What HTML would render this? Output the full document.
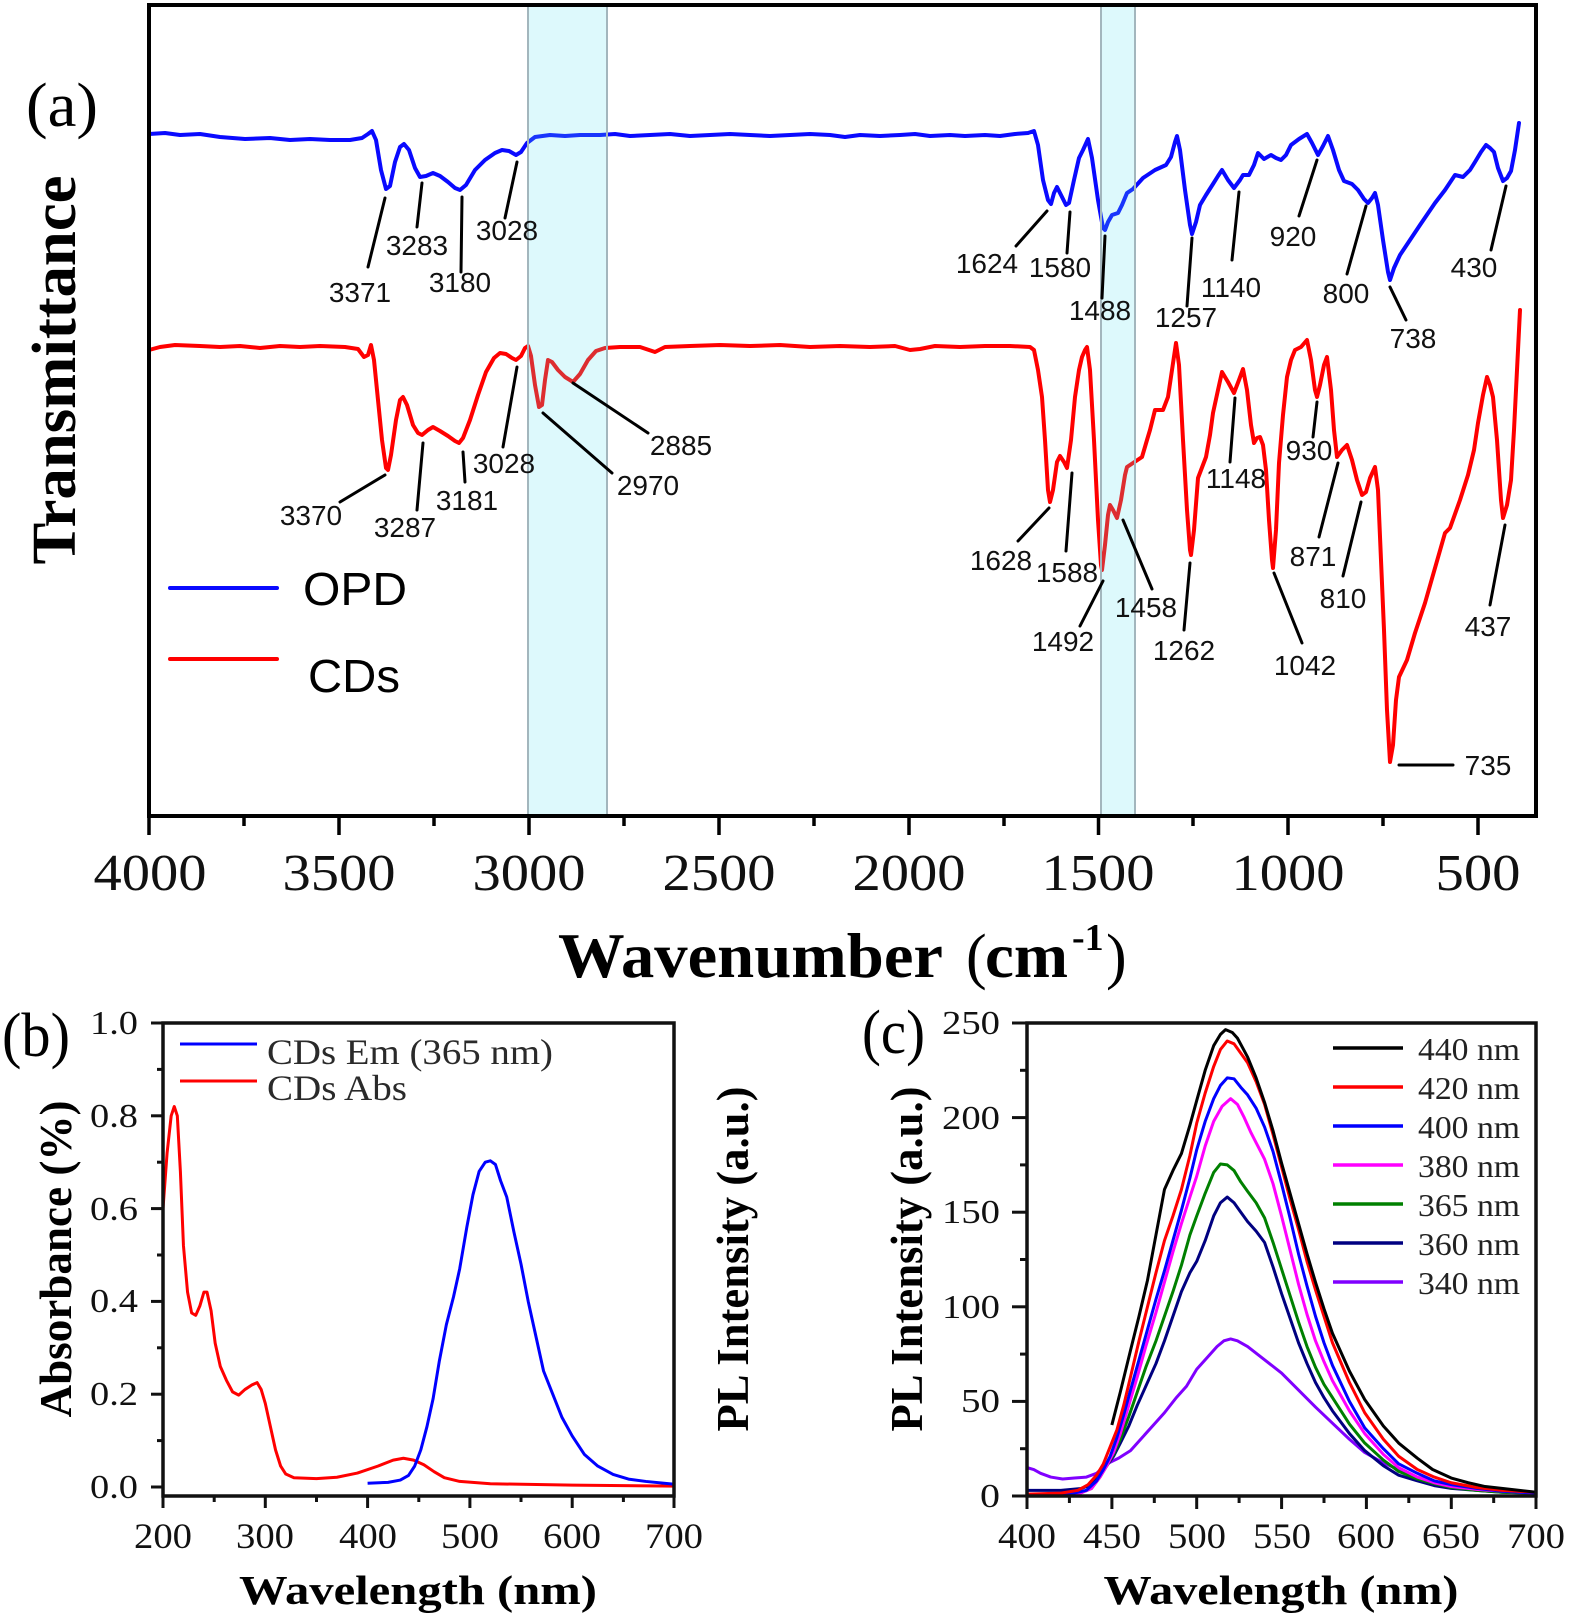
<!DOCTYPE html>
<html><head><meta charset="utf-8">
<style>
html,body{margin:0;padding:0;background:#fff;}
svg{display:block;}
.serif{font-family:"Liberation Serif","Times New Roman",serif;}
.sans{font-family:"Liberation Sans",Arial,sans-serif;}
.pk{font-family:"Liberation Sans",Arial,sans-serif;font-size:28px;fill:#111;}
</style></head>
<body>
<svg width="1570" height="1621" viewBox="0 0 1570 1621" xmlns="http://www.w3.org/2000/svg">
<rect x="0" y="0" width="1570" height="1621" fill="#fff"/>

<!-- ================= PANEL (a) ================= -->
<g fill="none" stroke-linejoin="round" stroke-linecap="round">
<!-- blue OPD -->
<polyline stroke="#0a0aff" stroke-width="4" points="149,134 165,133 180,135 200,134 220,137 245,139 270,138 290,140 310,139 330,140 350,140 362,138 368,134 372,131 376,140 381,170 386,189 390,186 395,162 400,147 404,144 409,150 415,168 420,177 426,176 433,173 440,176 448,182 455,188 460,190 466,185 475,170 485,160 495,153 502,150 509,151 516,155 521,152 527,143 535,137 550,135 565,136 580,135 600,135 615,134 630,136 650,135 670,134 690,136 710,135 730,134 750,135 770,136 790,135 810,134 830,135 845,137 860,135 880,136 900,135 915,134 930,136 950,135 965,136 985,135 1000,136 1015,134 1028,133 1034,131 1038,145 1043,180 1048,200 1051,204 1054,193 1057,187 1061,195 1066,205 1069,203 1074,180 1079,158 1083,150 1088,139 1092,158 1098,200 1103,228 1105,230 1108,222 1112,215 1118,213 1122,205 1127,193 1133,189 1143,178 1155,170 1166,165 1171,157 1175,142 1177,136 1180,150 1185,190 1190,225 1192,234 1196,222 1200,205 1206,195 1213,184 1218,176 1222,170 1228,180 1234,188 1240,180 1243,175 1249,175 1254,165 1258,153 1264,159 1271,155 1276,158 1281,160 1286,155 1291,145 1299,139 1307,134 1312,143 1318,155 1323,146 1328,136 1333,150 1339,170 1344,181 1352,184 1358,190 1364,199 1368,203 1372,198 1375,193 1378,205 1383,240 1388,272 1390,280 1394,268 1400,255 1410,240 1420,225 1435,203 1445,190 1455,175 1463,177 1470,170 1475,162 1481,152 1486,145 1490,148 1494,152 1498,168 1503,181 1507,178 1511,171 1515,150 1519,123"/>
<!-- red CDs -->
<polyline stroke="#ff0000" stroke-width="4" points="149,350 160,347 175,345 200,346 220,347 240,346 260,348 280,346 300,347 320,346 345,347 358,349 364,357 368,355 371,345 374,360 378,400 382,440 386,468 388,470 391,455 396,420 400,400 403,397 407,405 413,425 418,433 422,435 428,430 433,427 440,431 448,436 455,441 459,443 463,438 470,420 478,395 486,372 494,358 500,353 506,354 512,358 516,360 521,356 525,348 528,346 531,356 535,385 539,407 542,405 545,380 548,360 552,362 558,370 565,377 573,382 580,374 588,360 596,351 605,348 620,347 640,347 655,352 665,347 690,346 720,345 750,346 780,345 810,347 840,346 870,347 895,346 910,350 920,349 935,346 960,347 985,346 1010,346 1030,347 1034,350 1038,370 1042,397 1045,440 1048,490 1050,502 1053,490 1057,462 1060,456 1064,462 1067,468 1071,440 1075,397 1079,370 1082,357 1085,350 1087,347 1090,370 1094,440 1098,520 1101,565 1102,570 1105,545 1108,515 1110,505 1113,510 1117,518 1121,500 1125,475 1127,467 1133,463 1142,457 1147,440 1150,430 1155,410 1163,410 1168,397 1172,370 1176,343 1179,365 1183,440 1187,510 1190,550 1191,555 1194,530 1198,478 1206,457 1210,435 1213,413 1218,390 1222,372 1228,382 1234,393 1239,380 1243,369 1247,390 1251,425 1254,443 1257,438 1260,437 1263,445 1266,470 1269,520 1272,560 1273,568 1276,530 1279,463 1283,415 1287,377 1291,360 1295,350 1301,347 1307,340 1311,360 1315,390 1317,397 1320,385 1324,365 1327,357 1331,390 1334,430 1337,457 1342,450 1347,445 1352,460 1357,480 1362,495 1366,492 1370,478 1375,467 1378,490 1381,560 1384,630 1387,710 1390,762 1393,745 1396,700 1399,677 1407,660 1415,633 1425,603 1435,568 1445,533 1450,528 1460,500 1468,475 1474,450 1478,423 1483,395 1487,377 1490,385 1493,397 1497,440 1501,500 1503,518 1507,505 1511,480 1514,430 1517,370 1520,310"/>
</g>

<!-- shaded bands -->
<rect x="528" y="5" width="79" height="811" fill="rgb(85,225,240)" fill-opacity="0.2"/>
<rect x="1101" y="5" width="34" height="811" fill="rgb(85,225,240)" fill-opacity="0.2"/>
<g stroke="#a3b6bd" stroke-width="2">
<line x1="528" y1="5" x2="528" y2="816"/><line x1="607" y1="5" x2="607" y2="816"/>
<line x1="1101" y1="5" x2="1101" y2="816"/><line x1="1135" y1="5" x2="1135" y2="816"/>
</g>

<!-- frame (a) -->
<rect x="149" y="5" width="1387" height="811" fill="none" stroke="#000" stroke-width="4"/>
<g stroke="#000" stroke-width="3.5">
<line x1="149" y1="816" x2="149" y2="835"/>
<line x1="244" y1="816" x2="244" y2="826"/>
<line x1="339" y1="816" x2="339" y2="835"/>
<line x1="434" y1="816" x2="434" y2="826"/>
<line x1="529" y1="816" x2="529" y2="835"/>
<line x1="624" y1="816" x2="624" y2="826"/>
<line x1="719" y1="816" x2="719" y2="835"/>
<line x1="814" y1="816" x2="814" y2="826"/>
<line x1="909" y1="816" x2="909" y2="835"/>
<line x1="1004" y1="816" x2="1004" y2="826"/>
<line x1="1098.5" y1="816" x2="1098.5" y2="835"/>
<line x1="1193" y1="816" x2="1193" y2="826"/>
<line x1="1288" y1="816" x2="1288" y2="835"/>
<line x1="1383" y1="816" x2="1383" y2="826"/>
<line x1="1478" y1="816" x2="1478" y2="835"/>
</g>
<g class="serif" font-size="52" fill="#111" text-anchor="middle">
<text x="150" y="890" textLength="113" lengthAdjust="spacingAndGlyphs">4000</text>
<text x="339" y="890" textLength="113" lengthAdjust="spacingAndGlyphs">3500</text>
<text x="529" y="890" textLength="113" lengthAdjust="spacingAndGlyphs">3000</text>
<text x="719" y="890" textLength="113" lengthAdjust="spacingAndGlyphs">2500</text>
<text x="909" y="890" textLength="113" lengthAdjust="spacingAndGlyphs">2000</text>
<text x="1098" y="890" textLength="113" lengthAdjust="spacingAndGlyphs">1500</text>
<text x="1288" y="890" textLength="113" lengthAdjust="spacingAndGlyphs">1000</text>
<text x="1478" y="890" textLength="85" lengthAdjust="spacingAndGlyphs">500</text>
</g>
<!-- x title (a) -->
<g class="serif" fill="#000">
<text x="558" y="977" font-size="64" font-weight="bold" textLength="385" lengthAdjust="spacingAndGlyphs">Wavenumber</text>
<text x="966" y="977" font-size="62">(</text>
<text x="985" y="977" font-size="64" font-weight="bold" textLength="83" lengthAdjust="spacingAndGlyphs">cm</text>
<text x="1072" y="950" font-size="38" font-weight="bold">-1</text>
<text x="1106" y="977" font-size="62">)</text>
</g>
<!-- y title (a) -->
<text class="serif" transform="translate(75,370) rotate(-90)" text-anchor="middle" font-size="62" font-weight="bold" textLength="389" lengthAdjust="spacingAndGlyphs">Transmittance</text>
<text class="serif" x="26" y="126" font-size="62" textLength="72" lengthAdjust="spacingAndGlyphs">(a)</text>

<!-- legend (a) -->
<line x1="170" y1="588" x2="277" y2="588" stroke="#0a0aff" stroke-width="4" stroke-linecap="round"/>
<line x1="170" y1="659" x2="277" y2="659" stroke="#ff0000" stroke-width="4" stroke-linecap="round"/>
<text class="sans" x="303" y="605" font-size="46" textLength="104" lengthAdjust="spacingAndGlyphs">OPD</text>
<text class="sans" x="308" y="692" font-size="46" textLength="92" lengthAdjust="spacingAndGlyphs">CDs</text>

<!-- peak leader lines -->
<g stroke="#000" stroke-width="3" stroke-linecap="round">
<line x1="385" y1="198" x2="368" y2="267"/>
<line x1="422" y1="183" x2="417" y2="227"/>
<line x1="462" y1="197" x2="461" y2="272"/>
<line x1="517" y1="162" x2="505" y2="218"/>
<line x1="1047" y1="211" x2="1016" y2="246"/>
<line x1="1070" y1="212" x2="1067" y2="253"/>
<line x1="1105" y1="236" x2="1102" y2="298"/>
<line x1="1192" y1="238" x2="1187" y2="306"/>
<line x1="1239" y1="192" x2="1232" y2="260"/>
<line x1="1317" y1="160" x2="1299" y2="216"/>
<line x1="1366" y1="206" x2="1347" y2="274"/>
<line x1="1390" y1="287" x2="1406" y2="320"/>
<line x1="1506" y1="186" x2="1491" y2="250"/>
<line x1="385" y1="475" x2="340" y2="502"/>
<line x1="423" y1="443" x2="417" y2="510"/>
<line x1="463" y1="452" x2="465" y2="482"/>
<line x1="517" y1="367" x2="503" y2="447"/>
<line x1="543" y1="413" x2="612" y2="473"/>
<line x1="573" y1="383" x2="648" y2="433"/>
<line x1="1049" y1="508" x2="1018" y2="541"/>
<line x1="1072" y1="473" x2="1066" y2="551"/>
<line x1="1103" y1="581" x2="1080" y2="626"/>
<line x1="1123" y1="520" x2="1152" y2="589"/>
<line x1="1190" y1="563" x2="1184" y2="630"/>
<line x1="1235" y1="398" x2="1230" y2="462"/>
<line x1="1274" y1="573" x2="1302" y2="643"/>
<line x1="1317" y1="402" x2="1313" y2="437"/>
<line x1="1338" y1="463" x2="1319" y2="537"/>
<line x1="1361" y1="502" x2="1343" y2="576"/>
<line x1="1505" y1="525" x2="1490" y2="605"/>
<line x1="1399" y1="765" x2="1453" y2="765"/>
</g>
<g class="pk" text-anchor="middle">
<text x="360" y="302">3371</text>
<text x="417" y="255">3283</text>
<text x="460" y="292">3180</text>
<text x="507" y="240">3028</text>
<text x="987" y="273">1624</text>
<text x="1060" y="277">1580</text>
<text x="1100" y="320">1488</text>
<text x="1186" y="327">1257</text>
<text x="1231" y="297">1140</text>
<text x="1293" y="246">920</text>
<text x="1346" y="303">800</text>
<text x="1413" y="348">738</text>
<text x="1474" y="277">430</text>
<text x="311" y="525">3370</text>
<text x="405" y="537">3287</text>
<text x="467" y="510">3181</text>
<text x="504" y="473">3028</text>
<text x="648" y="495">2970</text>
<text x="681" y="455">2885</text>
<text x="1001" y="570">1628</text>
<text x="1067" y="582">1588</text>
<text x="1063" y="651">1492</text>
<text x="1146" y="617">1458</text>
<text x="1184" y="660">1262</text>
<text x="1236" y="488">1148</text>
<text x="1305" y="675">1042</text>
<text x="1309" y="460">930</text>
<text x="1313" y="566">871</text>
<text x="1343" y="608">810</text>
<text x="1488" y="636">437</text>
<text x="1488" y="775">735</text>
</g>

<!-- ================= PANEL (b) ================= -->
<g transform="matrix(1.023 0 0 -464 -41.6 1487)" fill="none" stroke-linejoin="round">
<polyline vector-effect="non-scaling-stroke" stroke="#ff0000" stroke-width="3" points="200,0.60 204,0.72 208,0.80 211,0.82 214,0.80 217,0.68 220,0.52 224,0.42 228,0.375 232,0.37 236,0.39 240,0.42 243,0.42 247,0.38 251,0.31 256,0.26 262,0.23 268,0.205 274,0.198 280,0.21 287,0.22 292,0.225 296,0.21 300,0.18 305,0.13 310,0.08 315,0.045 320,0.028 328,0.02 350,0.018 370,0.021 390,0.03 410,0.045 425,0.058 435,0.062 445,0.058 455,0.048 465,0.033 475,0.02 490,0.012 520,0.007 600,0.004 700,0.002"/>
<polyline vector-effect="non-scaling-stroke" stroke="#0000ff" stroke-width="3" points="400,0.008 420,0.01 432,0.015 440,0.025 446,0.045 452,0.08 458,0.13 464,0.19 470,0.27 477,0.35 484,0.41 490,0.47 497,0.56 503,0.63 509,0.68 515,0.70 520,0.703 525,0.695 530,0.66 536,0.625 543,0.55 550,0.48 557,0.40 564,0.33 572,0.25 581,0.20 590,0.15 600,0.11 612,0.07 625,0.045 640,0.027 655,0.017 672,0.012 700,0.006"/>
</g>
<rect x="163" y="1023" width="511" height="473" fill="none" stroke="#111" stroke-width="3.5"/>
<g stroke="#111" stroke-width="3">
<line x1="151" y1="1487" x2="163" y2="1487"/>
<line x1="157" y1="1440.6" x2="163" y2="1440.6"/>
<line x1="151" y1="1394.2" x2="163" y2="1394.2"/>
<line x1="157" y1="1347.8" x2="163" y2="1347.8"/>
<line x1="151" y1="1301.4" x2="163" y2="1301.4"/>
<line x1="157" y1="1255" x2="163" y2="1255"/>
<line x1="151" y1="1208.6" x2="163" y2="1208.6"/>
<line x1="157" y1="1162.2" x2="163" y2="1162.2"/>
<line x1="151" y1="1115.8" x2="163" y2="1115.8"/>
<line x1="157" y1="1069.4" x2="163" y2="1069.4"/>
<line x1="151" y1="1023" x2="163" y2="1023"/>
<line x1="163" y1="1496" x2="163" y2="1508"/>
<line x1="214.2" y1="1496" x2="214.2" y2="1502"/>
<line x1="265.3" y1="1496" x2="265.3" y2="1508"/>
<line x1="316.5" y1="1496" x2="316.5" y2="1502"/>
<line x1="367.6" y1="1496" x2="367.6" y2="1508"/>
<line x1="418.8" y1="1496" x2="418.8" y2="1502"/>
<line x1="469.9" y1="1496" x2="469.9" y2="1508"/>
<line x1="521" y1="1496" x2="521" y2="1502"/>
<line x1="572.2" y1="1496" x2="572.2" y2="1508"/>
<line x1="623.4" y1="1496" x2="623.4" y2="1502"/>
<line x1="674" y1="1496" x2="674" y2="1508"/>
</g>
<g class="serif" font-size="34" fill="#111" text-anchor="end">
<text x="138" y="1498" textLength="48" lengthAdjust="spacingAndGlyphs">0.0</text>
<text x="138" y="1405" textLength="48" lengthAdjust="spacingAndGlyphs">0.2</text>
<text x="138" y="1312" textLength="48" lengthAdjust="spacingAndGlyphs">0.4</text>
<text x="138" y="1220" textLength="48" lengthAdjust="spacingAndGlyphs">0.6</text>
<text x="138" y="1127" textLength="48" lengthAdjust="spacingAndGlyphs">0.8</text>
<text x="138" y="1034" textLength="48" lengthAdjust="spacingAndGlyphs">1.0</text>
</g>
<g class="serif" font-size="36" fill="#111" text-anchor="middle">
<text x="163" y="1548" textLength="58" lengthAdjust="spacingAndGlyphs">200</text>
<text x="265" y="1548" textLength="58" lengthAdjust="spacingAndGlyphs">300</text>
<text x="368" y="1548" textLength="58" lengthAdjust="spacingAndGlyphs">400</text>
<text x="470" y="1548" textLength="58" lengthAdjust="spacingAndGlyphs">500</text>
<text x="572" y="1548" textLength="58" lengthAdjust="spacingAndGlyphs">600</text>
<text x="674" y="1548" textLength="58" lengthAdjust="spacingAndGlyphs">700</text>
</g>
<text class="serif" x="418" y="1604" text-anchor="middle" font-size="41" font-weight="bold" textLength="358" lengthAdjust="spacingAndGlyphs">Wavelength (nm)</text>
<text class="serif" transform="translate(71,1259) rotate(-90)" text-anchor="middle" font-size="46" font-weight="bold" textLength="317" lengthAdjust="spacingAndGlyphs">Absorbance (%)</text>
<text class="serif" transform="translate(748,1259) rotate(-90)" text-anchor="middle" font-size="46" font-weight="bold" textLength="345" lengthAdjust="spacingAndGlyphs">PL Intensity (a.u.)</text>
<text class="serif" x="2" y="1056" font-size="62" textLength="68" lengthAdjust="spacingAndGlyphs">(b)</text>
<line x1="180" y1="1044" x2="257" y2="1044" stroke="#0000ff" stroke-width="3"/>
<line x1="180" y1="1081" x2="257" y2="1081" stroke="#ff0000" stroke-width="3"/>
<text class="serif" x="267" y="1064" font-size="36" fill="#2a2a2a" textLength="286" lengthAdjust="spacingAndGlyphs">CDs Em (365 nm)</text>
<text class="serif" x="267" y="1100" font-size="36" fill="#2a2a2a" textLength="140" lengthAdjust="spacingAndGlyphs">CDs Abs</text>

<!-- ================= PANEL (c) ================= -->
<g transform="matrix(1.697 0 0 -1.892 348.2 1496)" fill="none" stroke-linejoin="round">
<polyline vector-effect="non-scaling-stroke" stroke="#8000ff" stroke-width="3" points="400,15 404,14 408,12 414,10 421,9 428,9.5 435,10 441,12 447,17 454,20 461,24 468,31 475,38 481,44 488,52 494,58 500,67 507,74 512,79 516,82 520,83 524,82 530,79 540,72 550,65 560,56 570,47 580,38.5 590,30 599,23 610,17.5 619,14 630,10 640,7 650,5 665,3.5 680,2.5 700,1.5"/>
<polyline vector-effect="non-scaling-stroke" stroke="#000080" stroke-width="3" points="400,3 420,3 432,4 438,6 443,11 447,16 451,21 455,28 460,37 465,48 470,58 476,70 481,82 486,95 491,108 496,118 500,124 505,135 510,148 514,155 518,158 522,155 526,150 530,145 535,140 540,134 545,121 550,107 555,94 560,81 565,70 570,60 575,52 580,45 590,33 599,24 610,16 619,11 630,8 640,5.5 650,4 665,3 680,2 700,1.5"/>
<polyline vector-effect="non-scaling-stroke" stroke="#008000" stroke-width="3" points="400,0.5 430,1 438,4 443,10 447,16 451,22 455,30 460,42 465,55 470,68 476,82 481,95 486,108 491,122 496,138 500,148 505,160 510,171 514,175.5 518,175 522,172 526,166 530,161 535,155 540,147 545,134 550,120 555,106 560,92 565,79 570,68 575,59 580,52 590,38 599,28 610,19 619,13 630,9 640,6.5 650,4.5 665,3 680,2 700,1.5"/>
<polyline vector-effect="non-scaling-stroke" stroke="#ff00ff" stroke-width="3" points="400,0.5 430,1 438,4 443,10 447,16 451,23 455,33 460,48 465,63 470,79 476,97 481,113 486,129 491,144 496,158 500,169 505,185 510,198 515,206 520,210 524,207 528,200 532,192 536,185 540,178 545,165 550,148 555,130 560,112 565,96 570,82 575,71 580,61 590,45 599,33 610,22 619,15 630,10 640,7 650,5 665,3.5 680,2.5 700,1.5"/>
<polyline vector-effect="non-scaling-stroke" stroke="#0000ff" stroke-width="3" points="400,0.5 425,1 435,3 441,8 445,14 449,21 453,31 457,43 461,56 466,72 471,88 476,104 481,119 486,135 491,151 496,168 500,183 505,198 510,210 514,217 518,221 522,220.5 526,216 530,212 535,205 540,195 545,182 550,165 555,147 560,128 565,111 570,95 575,81 580,69 590,50 599,36 610,25 619,17 630,12 640,8 650,6 665,4 680,2.5 700,1.5"/>
<polyline vector-effect="non-scaling-stroke" stroke="#ff0000" stroke-width="3" points="400,1 420,1.5 430,3 436,6 441,11 445,17 449,26 453,35 457,48 461,63 466,82 471,100 476,118 481,135 486,148 491,162 496,180 500,197 505,213 510,227 514,236 518,240.5 522,239 526,234 530,229 535,219 540,207 545,191 550,174 555,157 560,141 565,124 570,109 575,95 580,81 590,60 599,44 610,30 619,21 630,14 640,10 650,7 665,4.5 680,3 700,2"/>
<polyline vector-effect="non-scaling-stroke" stroke="#000000" stroke-width="3" points="450,37.5 455,55 461,77 466,95 471,114 476,138 481,162 486,172 491,181 496,196 500,209 505,225 510,238 514,244 517,246.5 521,245 524,242 527,237 530,232 535,221 540,208 545,193 550,176 555,160 560,144 565,128 570,113 575,99 580,86 590,66 599,51 610,37 619,28 630,20 639,14 650,9.5 660,7 670,5 685,3.5 700,2"/>
</g>
<rect x="1027" y="1023" width="509" height="473" fill="none" stroke="#111" stroke-width="3.5"/>
<g stroke="#111" stroke-width="3">
<line x1="1012" y1="1496" x2="1027" y2="1496"/>
<line x1="1020" y1="1448.7" x2="1027" y2="1448.7"/>
<line x1="1012" y1="1401.4" x2="1027" y2="1401.4"/>
<line x1="1020" y1="1354.1" x2="1027" y2="1354.1"/>
<line x1="1012" y1="1306.8" x2="1027" y2="1306.8"/>
<line x1="1020" y1="1259.5" x2="1027" y2="1259.5"/>
<line x1="1012" y1="1212.2" x2="1027" y2="1212.2"/>
<line x1="1020" y1="1164.9" x2="1027" y2="1164.9"/>
<line x1="1012" y1="1117.6" x2="1027" y2="1117.6"/>
<line x1="1020" y1="1070.3" x2="1027" y2="1070.3"/>
<line x1="1012" y1="1023" x2="1027" y2="1023"/>
<line x1="1027" y1="1496" x2="1027" y2="1509"/>
<line x1="1069.4" y1="1496" x2="1069.4" y2="1503"/>
<line x1="1111.9" y1="1496" x2="1111.9" y2="1509"/>
<line x1="1154.3" y1="1496" x2="1154.3" y2="1503"/>
<line x1="1196.7" y1="1496" x2="1196.7" y2="1509"/>
<line x1="1239.1" y1="1496" x2="1239.1" y2="1503"/>
<line x1="1281.6" y1="1496" x2="1281.6" y2="1509"/>
<line x1="1324" y1="1496" x2="1324" y2="1503"/>
<line x1="1366.4" y1="1496" x2="1366.4" y2="1509"/>
<line x1="1408.8" y1="1496" x2="1408.8" y2="1503"/>
<line x1="1451.3" y1="1496" x2="1451.3" y2="1509"/>
<line x1="1493.7" y1="1496" x2="1493.7" y2="1503"/>
<line x1="1536" y1="1496" x2="1536" y2="1509"/>
</g>
<g class="serif" font-size="34" fill="#111" text-anchor="end">
<text x="1000" y="1507" textLength="20" lengthAdjust="spacingAndGlyphs">0</text>
<text x="1000" y="1412" textLength="39" lengthAdjust="spacingAndGlyphs">50</text>
<text x="1000" y="1318" textLength="58" lengthAdjust="spacingAndGlyphs">100</text>
<text x="1000" y="1223" textLength="58" lengthAdjust="spacingAndGlyphs">150</text>
<text x="1000" y="1129" textLength="58" lengthAdjust="spacingAndGlyphs">200</text>
<text x="1000" y="1034" textLength="58" lengthAdjust="spacingAndGlyphs">250</text>
</g>
<g class="serif" font-size="36" fill="#111" text-anchor="middle">
<text x="1027" y="1548" textLength="58" lengthAdjust="spacingAndGlyphs">400</text>
<text x="1112" y="1548" textLength="58" lengthAdjust="spacingAndGlyphs">450</text>
<text x="1197" y="1548" textLength="58" lengthAdjust="spacingAndGlyphs">500</text>
<text x="1282" y="1548" textLength="58" lengthAdjust="spacingAndGlyphs">550</text>
<text x="1366" y="1548" textLength="58" lengthAdjust="spacingAndGlyphs">600</text>
<text x="1451" y="1548" textLength="58" lengthAdjust="spacingAndGlyphs">650</text>
<text x="1536" y="1548" textLength="58" lengthAdjust="spacingAndGlyphs">700</text>
</g>
<text class="serif" x="1281" y="1604" text-anchor="middle" font-size="41" font-weight="bold" textLength="355" lengthAdjust="spacingAndGlyphs">Wavelength (nm)</text>
<text class="serif" transform="translate(922,1259) rotate(-90)" text-anchor="middle" font-size="46" font-weight="bold" textLength="345" lengthAdjust="spacingAndGlyphs">PL Intensity (a.u.)</text>
<text class="serif" x="862" y="1053" font-size="62" textLength="63" lengthAdjust="spacingAndGlyphs">(c)</text>
<g stroke-width="3.5">
<line x1="1333" y1="1048" x2="1403" y2="1048" stroke="#000000"/>
<line x1="1333" y1="1087" x2="1403" y2="1087" stroke="#ff0000"/>
<line x1="1333" y1="1126" x2="1403" y2="1126" stroke="#0000ff"/>
<line x1="1333" y1="1165" x2="1403" y2="1165" stroke="#ff00ff"/>
<line x1="1333" y1="1204" x2="1403" y2="1204" stroke="#008000"/>
<line x1="1333" y1="1243" x2="1403" y2="1243" stroke="#000080"/>
<line x1="1333" y1="1282" x2="1403" y2="1282" stroke="#8000ff"/>
</g>
<g class="serif" font-size="32" fill="#222">
<text x="1418" y="1060" textLength="102" lengthAdjust="spacingAndGlyphs">440 nm</text>
<text x="1418" y="1099" textLength="102" lengthAdjust="spacingAndGlyphs">420 nm</text>
<text x="1418" y="1138" textLength="102" lengthAdjust="spacingAndGlyphs">400 nm</text>
<text x="1418" y="1177" textLength="102" lengthAdjust="spacingAndGlyphs">380 nm</text>
<text x="1418" y="1216" textLength="102" lengthAdjust="spacingAndGlyphs">365 nm</text>
<text x="1418" y="1255" textLength="102" lengthAdjust="spacingAndGlyphs">360 nm</text>
<text x="1418" y="1294" textLength="102" lengthAdjust="spacingAndGlyphs">340 nm</text>
</g>
</svg>
</body></html>
